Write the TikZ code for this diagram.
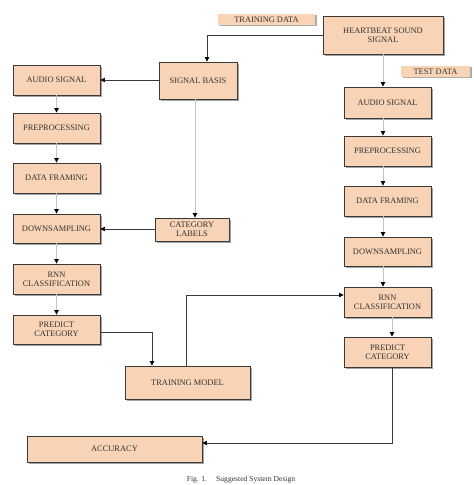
\documentclass[tikz,border=0pt]{standalone}
\usepackage{fontspec}
\setmainfont{Liberation Serif}
\usetikzlibrary{shadows,arrows.meta}
\definecolor{peach}{HTML}{F9D3B5}
\definecolor{edge}{HTML}{3A3A3A}
\definecolor{lgray}{HTML}{C4C4C4}
\tikzset{
  box/.style={draw=edge, line width=0.9pt, fill=peach, align=center, inner sep=1pt,
    font=\fontsize{8.4}{9}\selectfont, text=black!80,
    drop shadow={shadow xshift=1.6pt, shadow yshift=-1.6pt, fill=black!45, opacity=0.8}},
  tag/.style={fill=peach, align=center, inner sep=1pt,
    font=\fontsize{8.4}{9}\selectfont, text=black!80,
    drop shadow={shadow xshift=1.6pt, shadow yshift=-1.2pt, fill=black!40, opacity=0.8}},
  tip/.style={-{Triangle[length=4.5pt,width=4.5pt,color=black]}},
  dark/.style={tip, draw=edge, line width=0.7pt},
  light/.style={tip, draw=lgray, line width=0.9pt},
}
\newcommand{\bx}[7][box]{%
  \node[#1, minimum width={(#5-#3)*1pt}, minimum height={(#6-#4)*1pt}] (#2) at ({(#3+#5)/2},{(#4+#6)/2}) {#7};}
\begin{document}
\begin{tikzpicture}[x=1pt,y=-1pt]
\useasboundingbox (0,0) rectangle (474,485);
% top row
\bx[tag]{trd}{218}{14}{315}{25}{TRAINING DATA}
\bx{hb}{323}{16}{443}{54}{HEARTBEAT SOUND\\SIGNAL}
\bx[tag]{ted}{401}{66}{470}{77}{TEST DATA}
% middle
\bx{sb}{159}{62}{237}{99}{SIGNAL BASIS}
\bx{cl}{155}{218}{229}{241}{CATEGORY\\LABELS}
% left column
\bx{la}{13}{65}{100}{95}{AUDIO SIGNAL}
\bx{lp}{13}{113}{100}{143}{PREPROCESSING}
\bx{lf}{13}{163}{100}{193}{DATA FRAMING}
\bx{ld}{13}{214}{100}{243}{DOWNSAMPLING}
\bx{lr}{13}{264}{100}{294}{RNN\\CLASSIFICATION}
\bx{lc}{13}{315}{100}{344}{PREDICT\\CATEGORY}
% right column
\bx{ra}{344}{87}{431}{118}{AUDIO SIGNAL}
\bx{rp}{344}{136}{431}{166}{PREPROCESSING}
\bx{rf}{344}{186}{431}{216}{DATA FRAMING}
\bx{rd}{344}{237}{431}{266}{DOWNSAMPLING}
\bx{rr}{344}{287}{431}{317}{RNN\\CLASSIFICATION}
\bx{rc}{344}{337}{431}{367}{PREDICT\\CATEGORY}
% bottom
\bx{tm}{125}{366}{250}{399}{TRAINING MODEL}
\bx{acc}{27}{436}{202}{462}{ACCURACY}
\node[font=\fontsize{7.6}{8}\selectfont, text=black!80] (cap) at (241,480) {Fig. 1.\hspace{1.2em}Suggested System Design};
% connectors
\draw[dark] (hb.west |- 0,35) -| (sb.north -| 207,0);
\draw[light] (hb.south -| 383,0) -- (ra.north -| 383,0);
\draw[dark] (sb.west |- 0,80) -- (la.east |- 0,80);
\draw[light] (sb.south -| 195,0) -- (cl.north -| 195,0);
\draw[dark] (cl.west |- 0,229) -- (ld.east |- 0,229);
\draw[light] (la) -- (lp);
\draw[light] (lp) -- (lf);
\draw[light] (lf) -- (ld);
\draw[light] (ld) -- (lr);
\draw[light] (lr) -- (lc);
\draw[light] (ra.south -| 383,0) -- (rp.north -| 383,0);
\draw[light] (rp.south -| 383,0) -- (rf.north -| 383,0);
\draw[light] (rf.south -| 383,0) -- (rd.north -| 383,0);
\draw[light] (rd.south -| 383,0) -- (rr.north -| 383,0);
\draw[light] (rr.south -| 392,0) -- (rc.north -| 392,0);
\draw[dark] (lc.east |- 0,332) -| (tm.north -| 152,0);
\draw[dark] (tm.north -| 186,0) |- (rr.west |- 0,295);
\draw[dark] (rc.south -| 392,0) |- (acc.east |- 0,443);
\end{tikzpicture}
\end{document}
